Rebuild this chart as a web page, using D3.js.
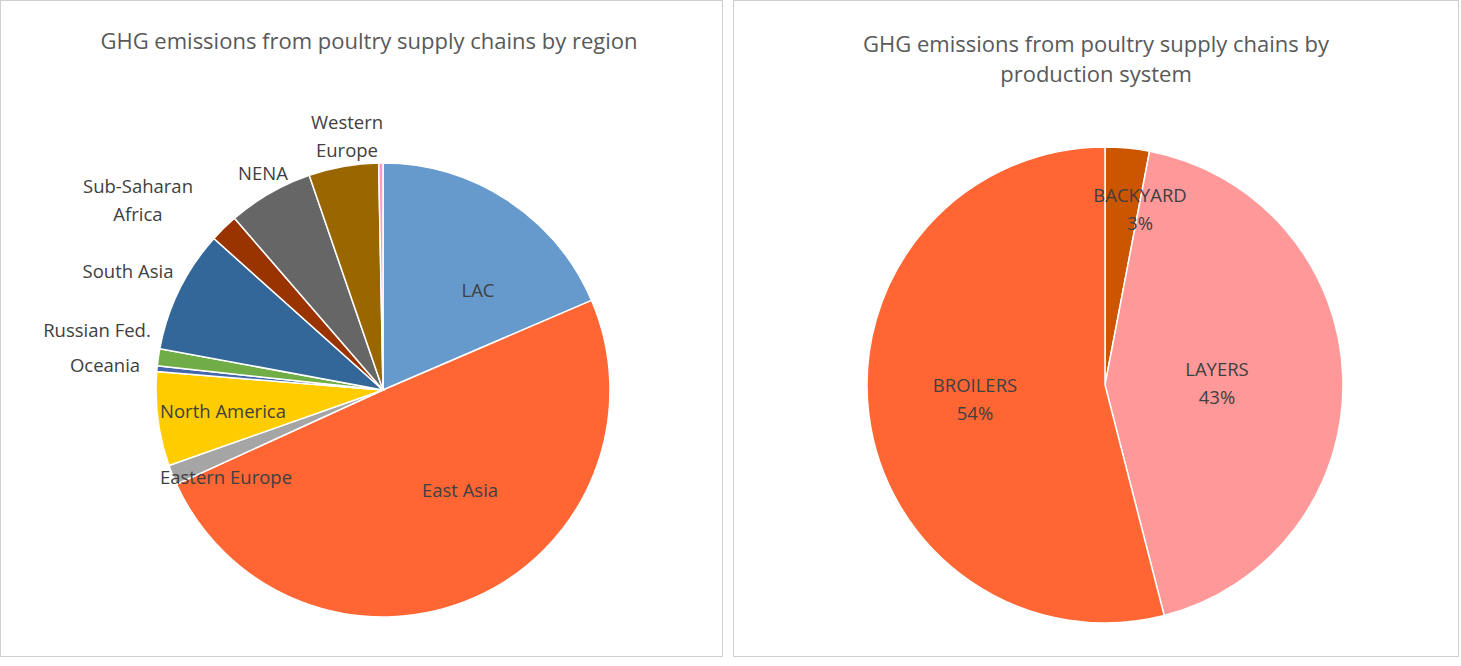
<!DOCTYPE html>
<html><head><meta charset="utf-8">
<script src="https://cdn.jsdelivr.net/npm/d3@7"></script>
<style>body{margin:0;background:#fff}text{font-family:"Open Sans","Liberation Sans",sans-serif}</style>
</head><body><svg id="chart" width="1461" height="666"></svg>
<script>
// regions, clockwise from 12 o'clock
const regions = ["LAC","East Asia","Eastern Europe","North America","Oceania","Russian Fed.","South Asia","Sub-Saharan Africa","NENA","Western Europe","Other"];
const regionValues = [18.3,49.0,1.4,6.6,0.4,1.2,8.6,2.0,6.0,4.9,0.3];
const regionColors = ["#6699cc","#ff6633","#a5a5a5","#ffcc00","#4466aa","#70ad47","#336699","#993300","#666666","#996600","#ff99cc"];

const systems = ["BACKYARD","LAYERS","BROILERS"];
const systemValues = [3,43,54];
const systemColors = ["#cc5500","#ff9999","#ff6633"];

const svg = d3.select("#chart");

// panel frames
svg.append("rect").attr("x",0.5).attr("y",0.5).attr("width",722).attr("height",656)
  .attr("fill","none").attr("stroke","#d0d0d0");
svg.append("rect").attr("x",733.5).attr("y",0.5).attr("width",725).attr("height",656)
  .attr("fill","none").attr("stroke","#d0d0d0");

function drawPie(cx, cy, r, names, values, colors, labels) {
  const pie = d3.pie().sort(null).value(d => d)(values);
  const arc = d3.arc().innerRadius(0).outerRadius(r);
  const g = svg.append("g").attr("transform", `translate(${cx},${cy})`);
  g.selectAll("path").data(pie).join("path")
    .attr("d", arc)
    .attr("fill", (d, i) => colors[i])
    .attr("stroke", "#fff").attr("stroke-width", 1.5);
  labels.forEach(l => {
    const t = svg.append("text").attr("x", l.x).attr("y", l.y)
      .attr("text-anchor", "middle").attr("font-size", 18.5).attr("fill", "#404040");
    l.lines.forEach((s, k) => t.append("tspan").attr("x", l.x).attr("dy", k ? 28 : 0).text(s));
  });
}

drawPie(383, 390, 227, regions, regionValues, regionColors, [
  {x:478,y:297,lines:["LAC"]},
  {x:460,y:497,lines:["East Asia"]},
  {x:226,y:484,lines:["Eastern Europe"]},
  {x:223,y:418,lines:["North America"]},
  {x:105,y:372,lines:["Oceania"]},
  {x:97,y:337,lines:["Russian Fed."]},
  {x:128,y:278,lines:["South Asia"]},
  {x:138,y:193,lines:["Sub-Saharan","Africa"]},
  {x:263,y:180,lines:["NENA"]},
  {x:347,y:129,lines:["Western","Europe"]}
]);

drawPie(1105, 385, 238, systems, systemValues, systemColors, [
  {x:1140,y:202,lines:[systems[0], systemValues[0]+"%"]},
  {x:1217,y:376,lines:[systems[1], systemValues[1]+"%"]},
  {x:975,y:392,lines:[systems[2], systemValues[2]+"%"]}
]);

svg.append("text").attr("x",369).attr("y",49).attr("text-anchor","middle")
  .attr("font-size",22).attr("fill","#595959").text("GHG emissions from poultry supply chains by region");
const t2 = svg.append("text").attr("x",1096).attr("y",52).attr("text-anchor","middle")
  .attr("font-size",22).attr("fill","#595959");
t2.append("tspan").attr("x",1096).text("GHG emissions from poultry supply chains by");
t2.append("tspan").attr("x",1096).attr("dy",30).text("production system");
</script></body></html>
